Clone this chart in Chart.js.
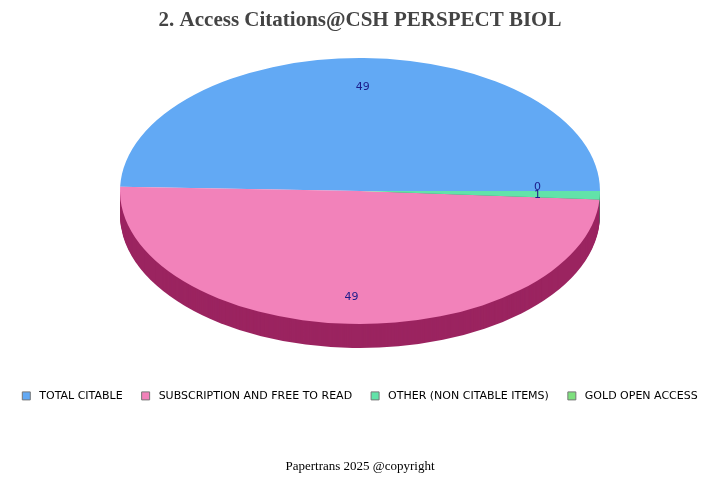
<!DOCTYPE html>
<html>
<head>
<meta charset="utf-8">
<script src="https://cdn.jsdelivr.net/npm/chart.js@4"></script>
<style>
  html, body { margin: 0; background: #fff; }
</style>
</head>
<body>
<canvas id="pieChart" width="720" height="480"></canvas>
<script>
const categories = ['TOTAL CITABLE', 'SUBSCRIPTION AND FREE TO READ', 'OTHER (NON CITABLE ITEMS)', 'GOLD OPEN ACCESS'];
const values = [49, 49, 1, 0];
const colors = ['#62a9f4', '#f282ba', '#62e3a9', '#7ee07e'];
const sideColors = ['#2f6bb0', '#9b2460', '#2b9a6a', '#3f9a3f'];

// ellipse geometry of the fake 3d pie
const CX = 360, CY = 191, RX = 240, RY = 133, DEPTH = 24;

const pie3d = {
    id: 'pie3d',
    beforeDatasetsDraw(chart) {
        const ctx = chart.ctx;
        const arcs = chart.getDatasetMeta(0).data;
        if (!arcs.length) return;
        const R = arcs[0].outerRadius, ox = arcs[0].x, oy = arcs[0].y;
        const sx = RX / R, sy = RY / R;
        // side wall, layer by layer, only the front half
        for (let d = DEPTH; d >= 1; d--) {
            ctx.save();
            ctx.beginPath();
            ctx.rect(0, CY + d, chart.width, chart.height);
            ctx.clip();
            ctx.translate(CX, CY + d);
            ctx.scale(sx, -sy);
            ctx.translate(-ox, -oy);
            arcs.forEach((a, i) => {
                if (a.endAngle - a.startAngle <= 0) return;
                ctx.beginPath();
                ctx.moveTo(ox, oy);
                ctx.arc(ox, oy, R, a.startAngle, a.endAngle);
                ctx.closePath();
                ctx.fillStyle = sideColors[i];
                ctx.fill();
            });
            ctx.restore();
        }
        // top face: squash the library's own pie into an ellipse
        ctx.save();
        ctx.translate(CX, CY);
        ctx.scale(sx, -sy);
        ctx.translate(-ox, -oy);
    },
    afterDatasetsDraw(chart) {
        const ctx = chart.ctx;
        ctx.restore();
        const arcs = chart.getDatasetMeta(0).data;
        ctx.save();
        ctx.font = '11px "DejaVu Sans"';
        ctx.fillStyle = '#1c1c8a';
        ctx.textAlign = 'center';
        ctx.textBaseline = 'middle';
        const placed = [];
        arcs.forEach((a, i) => {
            const mid = (a.startAngle + a.endAngle) / 2;
            const x = CX + Math.cos(mid) * RX * 0.74;
            let y = CY - Math.sin(mid) * RY * 0.79;
            while (placed.some(p => Math.abs(p.x - x) < 12 && Math.abs(p.y - y) < 8)) y -= 1;
            placed.push({ x, y });
            ctx.fillText(String(values[i]), x, y + 1);
        });
        ctx.restore();
    }
};

new Chart(document.getElementById('pieChart'), {
    type: 'pie',
    data: {
        labels: categories,
        datasets: [{
            data: values,
            backgroundColor: colors,
            borderWidth: 0,
            clip: false
        }]
    },
    options: {
        responsive: false,
        animation: false,
        events: [],
        rotation: 90,
        plugins: {
            title: {
                display: true,
                text: '2. Access Citations@CSH PERSPECT BIOL',
                color: '#444',
                font: { family: 'Liberation Serif', size: 21, weight: 'bold' },
                padding: { top: 8, bottom: 10 }
            },
            subtitle: {
                display: true,
                position: 'bottom',
                text: 'Papertrans 2025 @copyright',
                color: '#000',
                font: { family: 'Liberation Serif', size: 13 },
                padding: { top: 47, bottom: 6 }
            },
            legend: {
                position: 'bottom',
                labels: {
                    boxWidth: 8,
                    boxHeight: 8,
                    padding: 19,
                    color: '#111',
                    font: { family: 'DejaVu Sans', size: 11 },
                    generateLabels() {
                        return categories.map((c, i) => ({
                            text: ' ' + c,
                            fillStyle: colors[i],
                            strokeStyle: '#777',
                            lineWidth: 1,
                            hidden: false,
                            index: i
                        }));
                    }
                }
            },
            tooltip: { enabled: false }
        }
    },
    plugins: [pie3d]
});
</script>
</body>
</html>
